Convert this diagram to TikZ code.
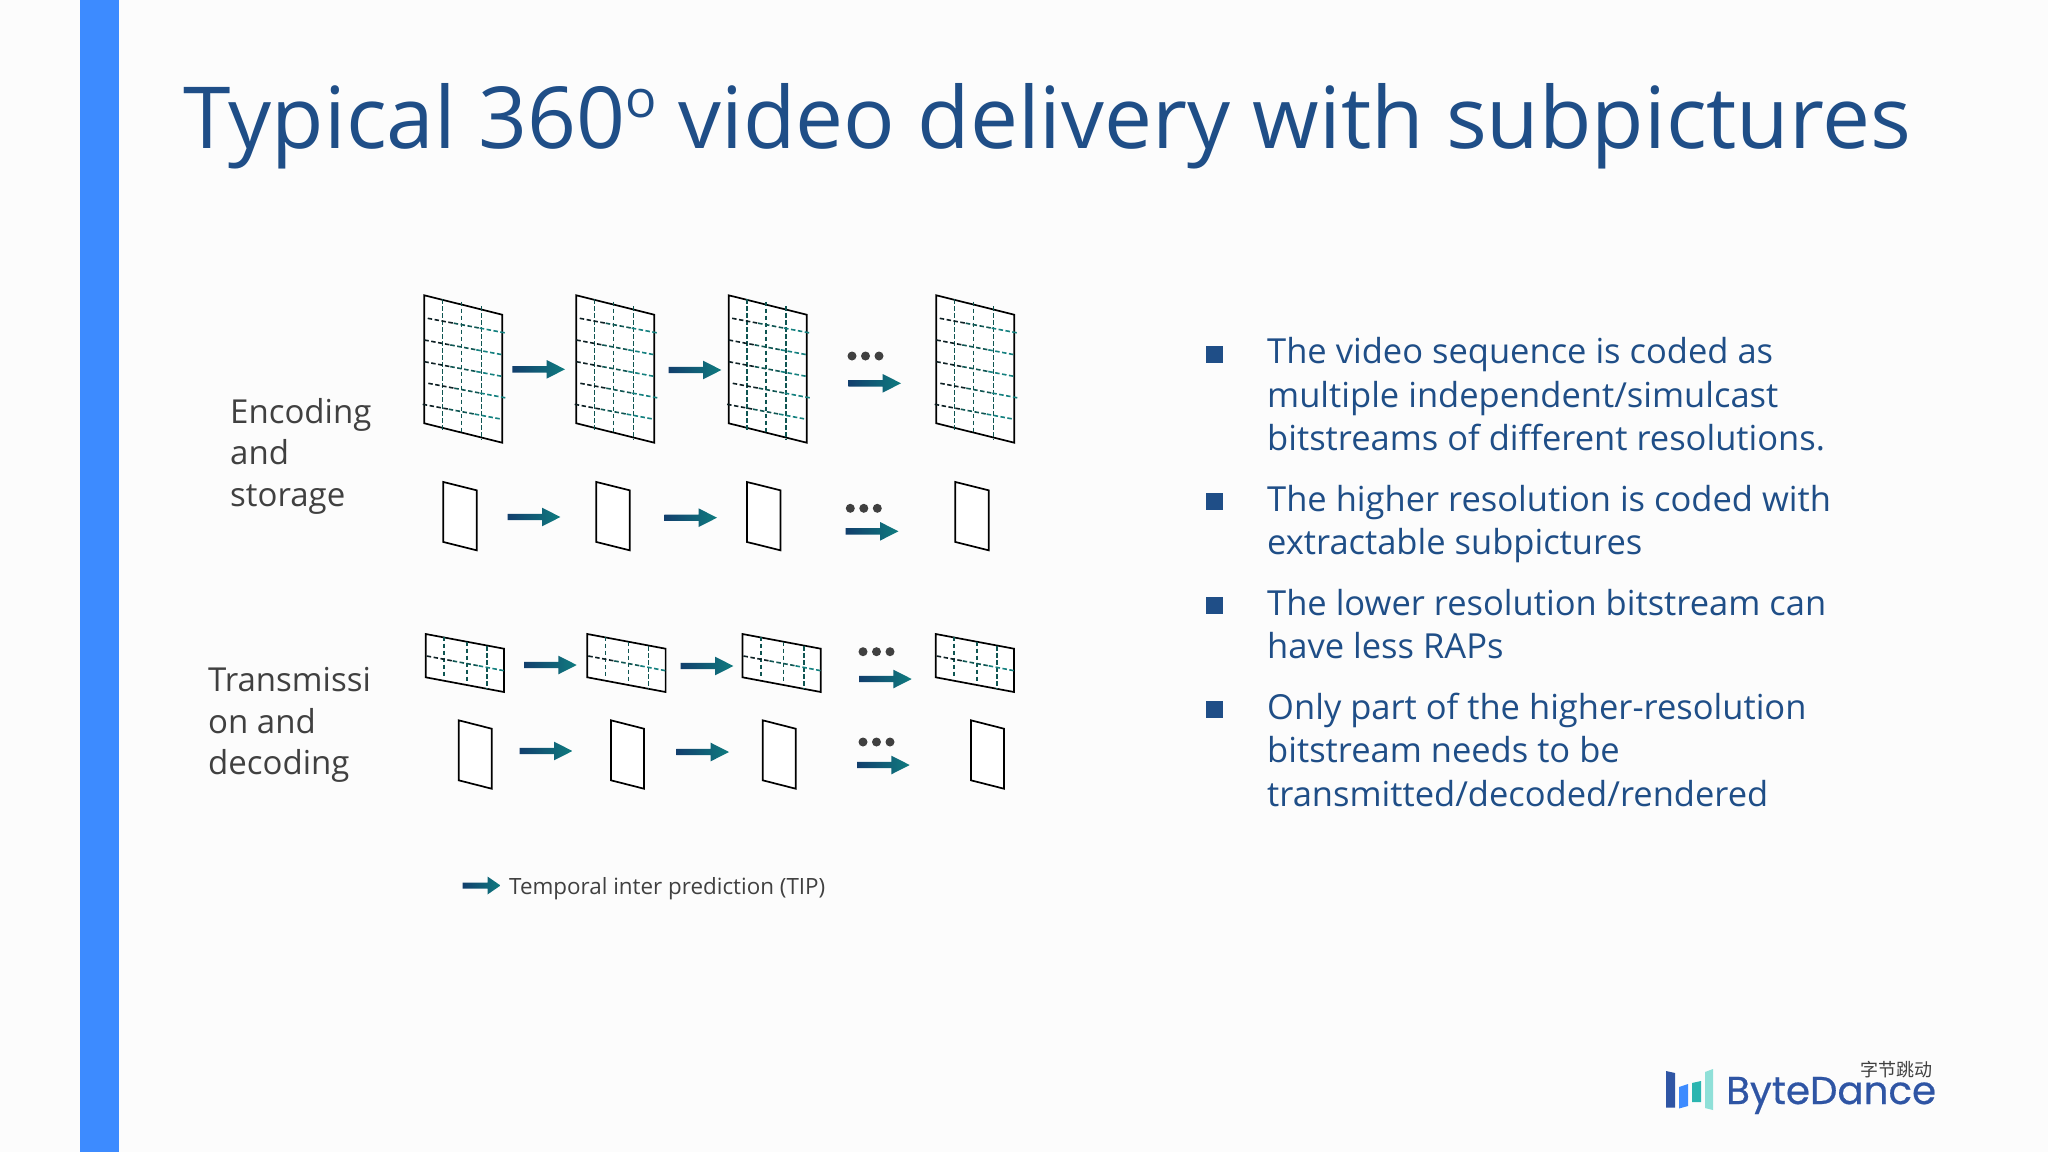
\documentclass[tikz,border=0pt]{standalone}
\usepackage{fontspec}
\setmainfont{Open Sans}
\newfontfamily\logofont[FakeBold=0.5]{Poppins}
\newfontfamily\cjkfont{Noto Sans CJK SC}
\usetikzlibrary{positioning}
\definecolor{slideblue}{HTML}{1F4E87}
\definecolor{barblue}{HTML}{3D8BFF}
\definecolor{labelgray}{HTML}{404040}
\definecolor{tipblue}{HTML}{123F6D}
\definecolor{tipteal}{HTML}{0F7B7F}
\definecolor{griddark}{HTML}{0E2024}
\definecolor{gridmid}{HTML}{0F5552}
\definecolor{gridteal}{HTML}{14807F}
\definecolor{logoblue}{HTML}{2F55A4}
\definecolor{logoteal}{HTML}{2BB5B0}
\definecolor{logomint}{HTML}{8FE0D8}
\tikzset{
	frameline/.style={draw=black,line width=1.7pt,fill=white},
	griddash/.style={line width=1.6pt,dash pattern=on 4.5pt off 2.5pt},
	tiparrow/.style={left color=tipblue,right color=tipteal},
	bodytext/.style={text=slideblue,anchor=north west,align=left,inner sep=0pt,font=\fontsize{34.5}{43.2}\selectfont},
	sidetext/.style={text=labelgray,anchor=north west,align=left,inner sep=0pt,font=\fontsize{33}{41.6}\selectfont},
	bulletbox/.style={fill=slideblue,inner sep=0pt,minimum size=17pt},
}
\begin{document}
\begin{tikzpicture}[x=1pt,y=-1pt]
	\useasboundingbox (0,0) rectangle (2048,1152);
	\fill [white!99!black] (0,0) rectangle (2048,1152);
	% Side Bar %
	\fill [barblue] (80,0) rectangle (119,1152);
	% Title %
	\node (title) [text=slideblue,anchor=base west,inner sep=0pt,font=\fontsize{85.6}{100}\selectfont] at (183,148) {Typical 360\raisebox{0.36em}{\fontsize{52}{52}\selectfont o} video delivery with subpictures};
	% Large Frames With Five Rows %
	\foreach \x in {424.3, 576.3, 728.7, 936.3}
	{
		\draw [frameline] (\x,295.3) -- ++(78,19.4) -- ++(0,128) -- ++(-78,-19.4) -- cycle;
		\foreach \dx/\dy/\ey in {18/4/136, 37/6.4/139, 57/11/145}
			\draw [griddash,gridmid] (\x+\dx,295.3+\dy) -- (\x+\dx,295.3+\ey);
		\foreach \dx/\dy in {3.4/23, 0/44.7, 0/66.4, 4/88, -1.6/109}
		{
			\draw [griddash,griddark] (\x+\dx,295.3+\dy) -- ++(26,4.9);
			\draw [griddash,gridmid] (\x+\dx+26,295.3+\dy+4.9) -- ++(26,4.9);
			\draw [griddash,gridteal] (\x+\dx+52,295.3+\dy+9.8) -- ++(25,4.7);
		}
	}
	% Large Frames With One Row %
	\foreach \x in {425.7, 587.3, 742.5, 935.7}
	{
		\draw [frameline] (\x,634) -- ++(78.3,14.7) -- ++(0,43.3) -- ++(-78.3,-14.7) -- cycle;
		\foreach \dx/\dy/\ey in {18.3/2.7/44, 41/7.7/49.3, 61.3/12/54.3}
			\draw [griddash,gridmid] (\x+\dx,634+\dy) -- (\x+\dx,634+\ey);
		\draw [griddash,griddark] (\x+1,656) -- ++(26,4.9);
		\draw [griddash,gridmid] (\x+27,660.9) -- ++(26,4.9);
		\draw [griddash,gridteal] (\x+53,665.8) -- ++(25.3,4.9);
	}
	% Small Frames %
	\foreach \x in {443.3, 596.3, 747, 955.3}
		\draw [frameline] (\x,482) -- ++(33.4,8.3) -- ++(0,60) -- ++(-33.4,-8.3) -- cycle;
	\foreach \x in {458.7, 611, 762.7, 971}
		\draw [frameline] (\x,720.3) -- ++(33,8.4) -- ++(0,60) -- ++(-33,-8.4) -- cycle;
	% Arrows %
	\foreach \x/\y in {512.3/369.3, 668.7/370, 848.3/383.3, 507.7/517, 664.3/517.7, 845.7/531.3, 524/665, 680.7/666, 859/679, 519.7/751, 676.3/752, 857/765}
		\shade [tiparrow] (\x,\y-3.2) -- ++(34.4,0) -- ++(0,-6.1) -- ++(18.3,9.3) -- ++(-18.3,9.3) -- ++(0,-6.1) -- ++(-34.4,0) -- cycle;
	% Dots %
	\foreach \x/\y in {852/356, 850.3/508.3, 863/651.7, 863/742}
		\foreach \d in {0, 13.5, 27}
			\fill [labelgray] (\x+\d,\y) circle (4.5);
	% Side Labels %
	\node (encoding) [sidetext] at (230,398) {Encoding\\and\\storage};
	\node (transmission) [sidetext] at (208,667) {Transmissi\\on and\\decoding};
	% Legend %
	\shade [tiparrow] (462.5,882.5) -- ++(25,0) -- ++(0,-6) -- ++(13,9) -- ++(-13,9) -- ++(0,-6) -- ++(-25,0) -- cycle;
	\node (legend) [text=labelgray,anchor=west,inner sep=0pt,font=\fontsize{22.4}{28}\selectfont] at (509,888.5) {Temporal inter prediction (TIP)};
	% Bullets %
	\node (bulletone) [bulletbox] at (1214.5,354) {};
	\node (bullettwo) [bulletbox] at (1214.5,501.5) {};
	\node (bulletthree) [bulletbox] at (1214.5,605) {};
	\node (bulletfour) [bulletbox] at (1214.5,709) {};
	% Body Text %
	\node (textone) [bodytext] at (1267,337.5) {The video sequence is coded as\\multiple independent/simulcast\\bitstreams of different resolutions.};
	\node (texttwo) [bodytext] at (1267,485) {The higher resolution is coded with\\extractable subpictures};
	\node (textthree) [bodytext] at (1267,589) {The lower resolution bitstream can\\have less RAPs};
	\node (textfour) [bodytext] at (1267,693) {Only part of the higher-resolution\\bitstream needs to be\\transmitted/decoded/rendered};
	% Logo %
	\fill [logoblue] (1666,1071) -- (1675,1073) -- (1675,1107.5) -- (1666,1107.5) -- cycle;
	\fill [barblue] (1679,1087) -- (1688,1084) -- (1688,1106) -- (1679,1108.5) -- cycle;
	\fill [logoteal] (1692,1083) -- (1701,1081) -- (1701,1102) -- (1692,1102) -- cycle;
	\fill [logomint] (1705,1072) -- (1713,1069) -- (1713,1110) -- (1705,1108) -- cycle;
	\node (bytedance) [text=logoblue,anchor=base west,inner sep=0pt,font=\logofont\fontsize{38.8}{41}\selectfont] at (1726,1104) {ByteDance};
	\node (bytecjk) [text=labelgray,anchor=base east,inner sep=0pt,font=\cjkfont\fontsize{18}{18}\selectfont] at (1933,1076) {字节跳动};
\end{tikzpicture}
\end{document}
